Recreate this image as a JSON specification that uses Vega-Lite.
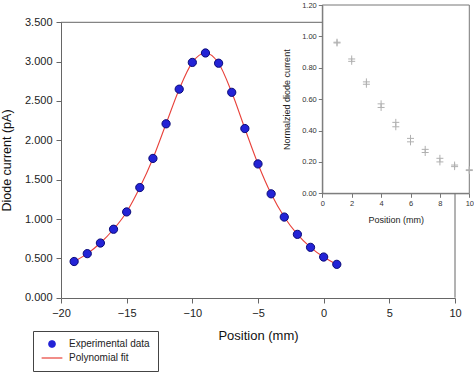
{
  "$schema": "https://vega.github.io/schema/vega-lite/v6.json",
  "width": 409,
  "height": 293,
  "autosize": {"type": "none"},
  "padding": {"left": 61, "top": 5, "right": 4, "bottom": 74},
  "background": "white",
  "config": {
    "view": {"stroke": null},
    "font": "Liberation Sans",
    "axis": {"grid": false},
    "legend": {
      "symbolSize": 48, "symbolOffset": 6, "labelOffset": 12, "rowPadding": 3,
      "labelFont": "Liberation Sans", "labelFontSize": 10, "labelColor": "#222",
      "padding": 8, "strokeColor": "#444", "fillColor": "white"
    }
  },
  "resolve": {"scale": {"x": "independent", "y": "independent", "color": "independent"}, "axis": {"x": "independent", "y": "independent"}},
  "layer": [
    {
      "layer": [
        {
          "data": {"values": [{}]},
          "mark": {"type": "rule", "color": "#666", "strokeWidth": 1},
          "encoding": {
            "x": {"datum": -20, "type": "quantitative"},
            "x2": {"datum": 10},
            "y": {"datum": 3.5, "type": "quantitative"}
          }
        },
        {
          "data": {"values": [{}]},
          "mark": {"type": "rule", "color": "#666", "strokeWidth": 1},
          "encoding": {
            "x": {"datum": 10, "type": "quantitative"},
            "y": {"datum": 0, "type": "quantitative"},
            "y2": {"datum": 3.5}
          }
        },
        {
          "data": {"name": "main"},
          "mark": {"type": "line", "interpolate": "monotone", "strokeWidth": 1.1},
          "encoding": {
            "x": {"field": "position", "type": "quantitative"},
            "y": {"field": "current", "type": "quantitative"},
            "color": {
              "datum": "Polynomial fit", "type": "nominal",
              "legend": {
                "title": null, "orient": "none", "legendX": -28, "legendY": 326,
                "encode": {
                  "symbols": {
                    "update": {
                      "shape": {"signal": "datum.value === 'Polynomial fit' ? 'M-3,0H3' : 'circle'"},
                      "fill": {"signal": "datum.value === 'Polynomial fit' ? 'transparent' : '#1a1ad2'"},
                      "stroke": {"signal": "datum.value === 'Polynomial fit' ? '#ff2a2a' : '#1a1ad2'"},
                      "strokeWidth": {"signal": "datum.value === 'Polynomial fit' ? 1.2 : 0.8"},
                      "opacity": {"value": 1},
                      "strokeOpacity": {"value": 1}
                    }
                  }
                }
              }
            }
          }
        },
        {
          "data": {"name": "main"},
          "mark": {"type": "point", "filled": true, "size": 68, "opacity": 1, "stroke": "#0a0a78", "strokeWidth": 1},
          "encoding": {
            "x": {
              "field": "position", "type": "quantitative",
              "scale": {"domain": [-20, 10], "range": [0, 394], "nice": false, "zero": false},
              "axis": {
                "orient": "bottom", "title": "Position (mm)", "values": [-20, -15, -10, -5, 0, 5, 10],
                "tickSize": 5, "labelPadding": 4, "labelFontSize": 11, "labelColor": "#222",
                "titleFontSize": 13, "titleFontWeight": "normal", "titleColor": "#111", "titlePadding": 11,
                "domainColor": "#666", "tickColor": "#666", "labelFlush": false
              }
            },
            "y": {
              "field": "current", "type": "quantitative",
              "scale": {"domain": [0, 3.5], "range": [292.7, 17.3], "nice": false, "zero": false},
              "axis": {
                "orient": "left", "title": "Diode current (pA)", "values": [0, 0.5, 1, 1.5, 2, 2.5, 3, 3.5],
                "format": ".3f", "tickSize": 5, "labelPadding": 4, "labelFontSize": 11, "labelColor": "#222",
                "titleFontSize": 12.5, "titleFontWeight": "normal", "titleColor": "#111", "titlePadding": 11,
                "domainColor": "#666", "tickColor": "#666", "labelFlush": false
              }
            },
            "color": {
              "datum": "Experimental data", "type": "nominal",
              "scale": {"domain": ["Experimental data", "Polynomial fit"], "range": ["#2323d6", "#e8413a"]},
              "legend": {
                "title": null, "orient": "none", "legendX": -28, "legendY": 326,
                "encode": {
                  "symbols": {
                    "update": {
                      "shape": {"signal": "datum.value === 'Polynomial fit' ? 'M-3,0H3' : 'circle'"},
                      "fill": {"signal": "datum.value === 'Polynomial fit' ? 'transparent' : '#1a1ad2'"},
                      "stroke": {"signal": "datum.value === 'Polynomial fit' ? '#ff2a2a' : '#1a1ad2'"},
                      "strokeWidth": {"signal": "datum.value === 'Polynomial fit' ? 1.2 : 0.8"},
                      "opacity": {"value": 1},
                      "strokeOpacity": {"value": 1}
                    }
                  }
                }
              }
            }
          }
        }
      ]
    },
    {
      "layer": [
        {
          "data": {"values": [{}]},
          "mark": {"type": "rect", "fill": "white", "stroke": "#777", "strokeWidth": 1},
          "encoding": {
            "x": {"datum": 0, "type": "quantitative"},
            "x2": {"datum": 10},
            "y": {"datum": 0, "type": "quantitative"},
            "y2": {"datum": 1.2}
          }
        },
        {
          "data": {"name": "inset"},
          "mark": {"type": "point", "shape": "M-1,0H1M0,-1V1", "filled": false, "size": 49, "stroke": "#b0b0b0", "strokeWidth": 1, "opacity": 1},
          "encoding": {
            "x": {
              "field": "position", "type": "quantitative",
              "scale": {"domain": [0, 10], "range": [261.3, 408.3], "nice": false, "zero": false},
              "axis": {
                "orient": "bottom", "offset": -104.7, "title": "Position (mm)", "values": [0, 2, 4, 6, 8, 10],
                "tickSize": 4, "labelPadding": 2, "labelFontSize": 7.5, "labelColor": "#333",
                "titleFontSize": 9, "titleFontWeight": "normal", "titleColor": "#222", "titlePadding": 9,
                "domainColor": "#777", "tickColor": "#777", "labelFlush": false, "zindex": 2
              }
            },
            "y": {
              "field": "normalized", "type": "quantitative",
              "scale": {"domain": [0, 1.2], "range": [188.3, 0], "nice": false, "zero": false},
              "axis": {
                "orient": "left", "offset": -261.3, "title": "Normalzied diode current", "values": [0, 0.2, 0.4, 0.6, 0.8, 1, 1.2],
                "format": ".2f", "tickSize": 4, "labelPadding": 2, "labelFontSize": 7.5, "labelColor": "#333",
                "titleFontSize": 9, "titleFontWeight": "normal", "titleColor": "#222", "titlePadding": 10,
                "domainColor": "#777", "tickColor": "#777", "labelFlush": false, "zindex": 2
              }
            },
            "detail": {"field": "series", "type": "nominal"}
          }
        }
      ]
    }
  ],
  "datasets": {
    "main": [
      {"position": -19, "current": 0.46},
      {"position": -18, "current": 0.56},
      {"position": -17, "current": 0.695},
      {"position": -16, "current": 0.87},
      {"position": -15, "current": 1.09},
      {"position": -14, "current": 1.4},
      {"position": -13, "current": 1.77},
      {"position": -12, "current": 2.21},
      {"position": -11, "current": 2.65},
      {"position": -10, "current": 2.99},
      {"position": -9, "current": 3.11},
      {"position": -8, "current": 2.98},
      {"position": -7, "current": 2.61},
      {"position": -6, "current": 2.15},
      {"position": -5, "current": 1.7},
      {"position": -4, "current": 1.32},
      {"position": -3, "current": 1.025},
      {"position": -2, "current": 0.805},
      {"position": -1, "current": 0.64},
      {"position": 0, "current": 0.517},
      {"position": 1, "current": 0.424}
    ],
    "inset": [
      {"position": 1, "normalized": 0.963, "series": "a"},
      {"position": 1, "normalized": 0.958, "series": "b"},
      {"position": 2, "normalized": 0.856, "series": "a"},
      {"position": 2, "normalized": 0.841, "series": "b"},
      {"position": 3, "normalized": 0.71, "series": "a"},
      {"position": 3, "normalized": 0.695, "series": "b"},
      {"position": 4, "normalized": 0.57, "series": "a"},
      {"position": 4, "normalized": 0.547, "series": "b"},
      {"position": 5, "normalized": 0.452, "series": "a"},
      {"position": 5, "normalized": 0.424, "series": "b"},
      {"position": 6, "normalized": 0.35, "series": "a"},
      {"position": 6, "normalized": 0.328, "series": "b"},
      {"position": 7, "normalized": 0.28, "series": "a"},
      {"position": 7, "normalized": 0.26, "series": "b"},
      {"position": 8, "normalized": 0.223, "series": "a"},
      {"position": 8, "normalized": 0.2, "series": "b"},
      {"position": 9, "normalized": 0.18, "series": "a"},
      {"position": 9, "normalized": 0.17, "series": "b"},
      {"position": 10, "normalized": 0.15, "series": "a"},
      {"position": 10, "normalized": 0.145, "series": "b"}
    ]
  }
}
